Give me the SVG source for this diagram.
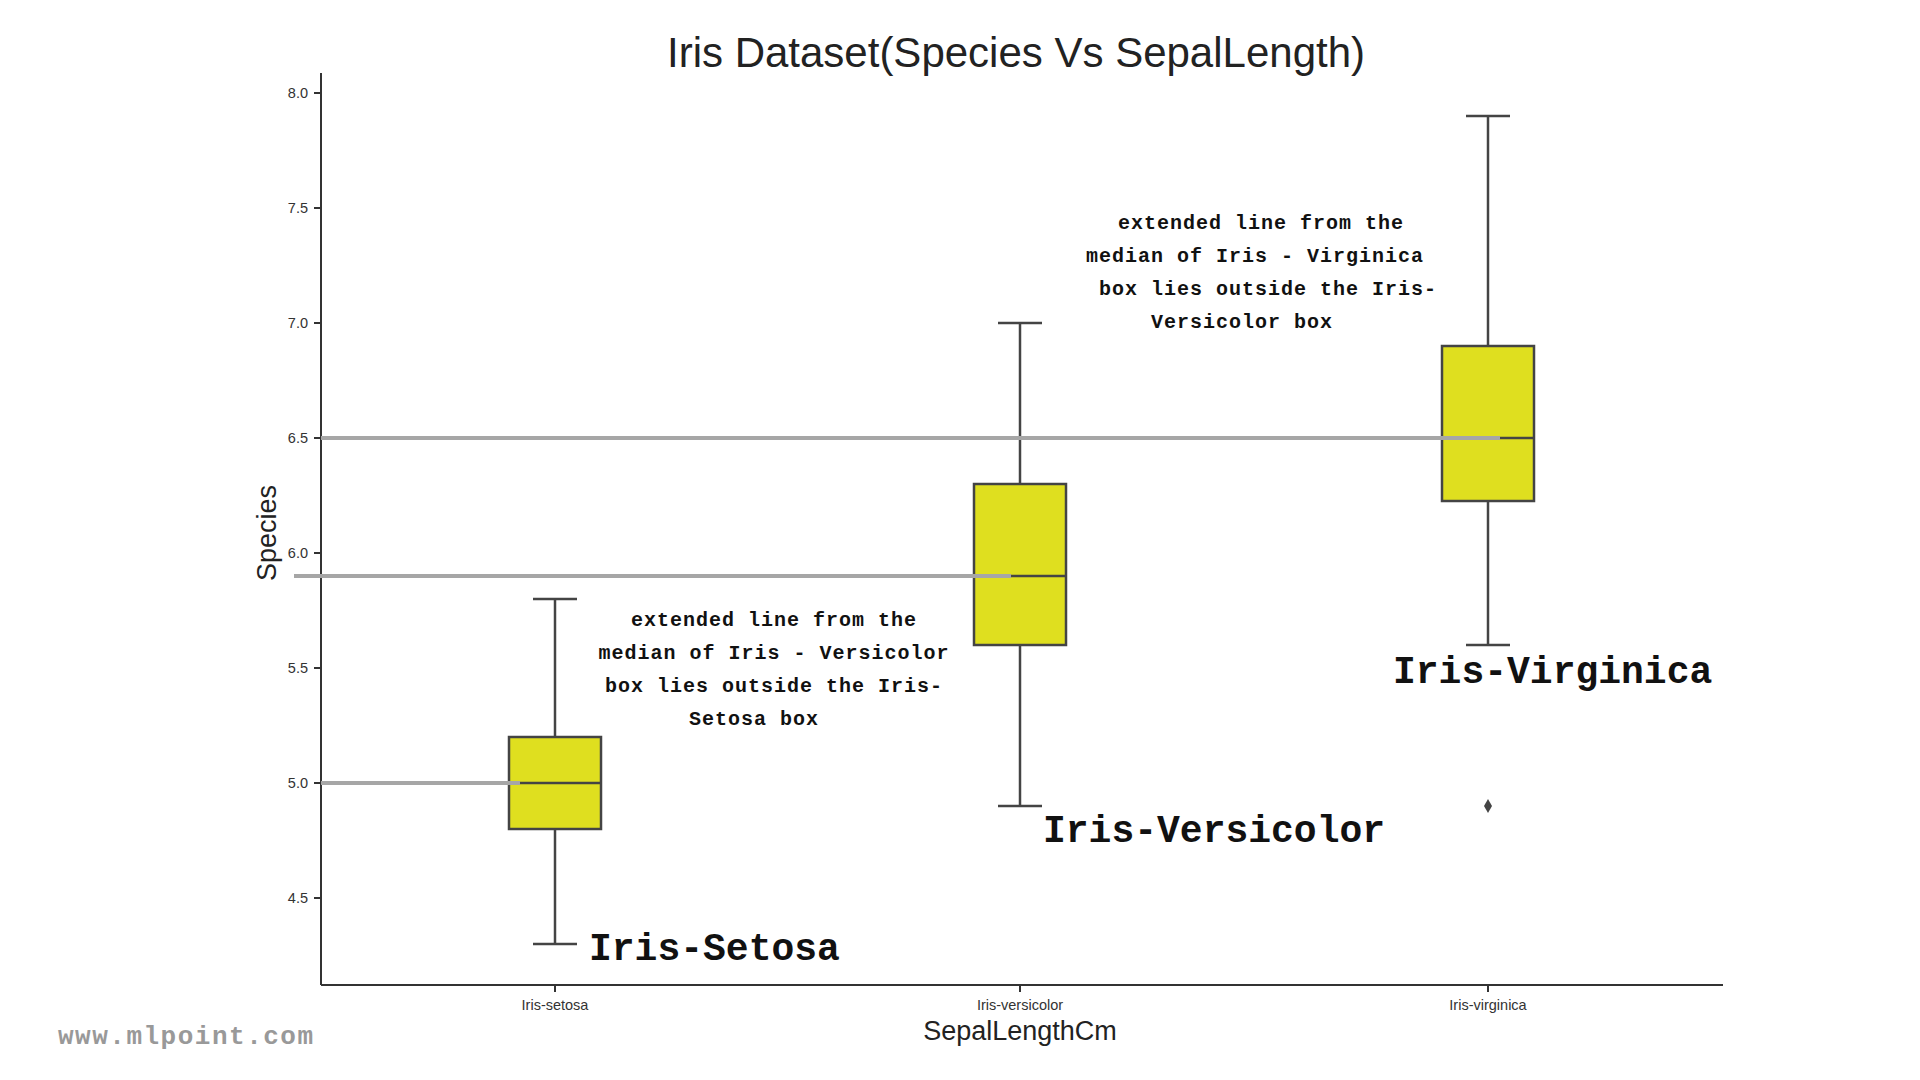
<svg xmlns="http://www.w3.org/2000/svg" width="1920" height="1080" viewBox="0 0 1920 1080">
<style>
.ax{stroke:#333;stroke-width:2;fill:none}
.tk{font-family:"Liberation Sans",Arial,sans-serif;font-size:14.5px;fill:#333}
.lab{font-family:"Liberation Sans",Arial,sans-serif;font-size:27px;fill:#222}
.box{fill:#dfdf1f;stroke:#444;stroke-width:2.5}
.wh{stroke:#444;stroke-width:2.5;fill:none}
.ext{stroke:#a6a6a6;stroke-width:4}
.ann{font-family:"Liberation Mono","Courier New",monospace;font-weight:bold;font-size:20px;letter-spacing:1px;fill:#111;text-anchor:middle}
.big{font-family:"Liberation Mono","Courier New",monospace;font-weight:bold;font-size:38px;fill:#111}
</style>
<rect width="1920" height="1080" fill="#fff"/>
<text x="1016" y="67" text-anchor="middle" font-family="Liberation Sans,Arial,sans-serif" font-size="42" fill="#222">Iris Dataset(Species Vs SepalLength)</text>
<g id="axes">
<line class="ax" x1="321" y1="73" x2="321" y2="985"/>
<line class="ax" x1="321" y1="985" x2="1723" y2="985"/>
<g class="ax">
<line x1="314" y1="93" x2="321" y2="93"/><line x1="314" y1="208" x2="321" y2="208"/><line x1="314" y1="323" x2="321" y2="323"/><line x1="314" y1="438" x2="321" y2="438"/><line x1="314" y1="553" x2="321" y2="553"/><line x1="314" y1="668" x2="321" y2="668"/><line x1="314" y1="783" x2="321" y2="783"/><line x1="314" y1="898" x2="321" y2="898"/>
<line x1="555" y1="985" x2="555" y2="992"/><line x1="1020" y1="985" x2="1020" y2="992"/><line x1="1488" y1="985" x2="1488" y2="992"/>
</g>
<g class="tk" text-anchor="end">
<text x="308" y="98">8.0</text><text x="308" y="213">7.5</text><text x="308" y="328">7.0</text><text x="308" y="443">6.5</text><text x="308" y="558">6.0</text><text x="308" y="673">5.5</text><text x="308" y="788">5.0</text><text x="308" y="903">4.5</text>
</g>
<g class="tk" text-anchor="middle">
<text x="555" y="1010">Iris-setosa</text><text x="1020" y="1010">Iris-versicolor</text><text x="1488" y="1010">Iris-virginica</text>
</g>
<text class="lab" x="1020" y="1040" text-anchor="middle">SepalLengthCm</text>
<text class="lab" transform="translate(276,533) rotate(-90)" text-anchor="middle">Species</text>
</g>
<g id="setosa">
<line class="wh" x1="555" y1="944" x2="555" y2="829"/><line class="wh" x1="555" y1="737" x2="555" y2="599"/>
<line class="wh" x1="533" y1="944" x2="577" y2="944"/><line class="wh" x1="533" y1="599" x2="577" y2="599"/>
<rect class="box" x="509" y="737" width="92" height="92"/>
<line class="wh" x1="509" y1="783" x2="601" y2="783"/>
</g>
<g id="versicolor">
<line class="wh" x1="1020" y1="806" x2="1020" y2="645"/><line class="wh" x1="1020" y1="484" x2="1020" y2="323"/>
<line class="wh" x1="998" y1="806" x2="1042" y2="806"/><line class="wh" x1="998" y1="323" x2="1042" y2="323"/>
<rect class="box" x="974" y="484" width="92" height="161"/>
<line class="wh" x1="974" y1="576" x2="1066" y2="576"/>
</g>
<g id="virginica">
<line class="wh" x1="1488" y1="645" x2="1488" y2="501"/><line class="wh" x1="1488" y1="346" x2="1488" y2="116"/>
<line class="wh" x1="1466" y1="645" x2="1510" y2="645"/><line class="wh" x1="1466" y1="116" x2="1510" y2="116"/>
<rect class="box" x="1442" y="346" width="92" height="155"/>
<line class="wh" x1="1442" y1="438" x2="1534" y2="438"/>
<path d="M1488 799 L1492 806 L1488 813 L1484 806 Z" fill="#444"/>
</g>
<g id="connectors">
<line class="ext" x1="321" y1="438" x2="1500" y2="438"/>
<line class="ext" x1="294" y1="576" x2="1011" y2="576"/>
<line class="ext" x1="321" y1="783" x2="520" y2="783"/>
</g>
<g id="annotations">
<text class="ann" x="1261" y="229">extended line from the</text>
<text class="ann" x="1255" y="262">median of Iris - Virginica</text>
<text class="ann" x="1268" y="295">box lies outside the Iris-</text>
<text class="ann" x="1242" y="328">Versicolor box</text>
<text class="ann" x="774" y="626">extended line from the</text>
<text class="ann" x="774" y="659">median of Iris - Versicolor</text>
<text class="ann" x="774" y="692">box lies outside the Iris-</text>
<text class="ann" x="754" y="725">Setosa box</text>
<text class="big" x="589" y="960">Iris-Setosa</text>
<text class="big" x="1043" y="842">Iris-Versicolor</text>
<text class="big" x="1393" y="683">Iris-Virginica</text>
<text x="58" y="1044" font-family="Liberation Mono,Courier New,monospace" font-weight="bold" font-size="26" letter-spacing="1.5" fill="#999">www.mlpoint.com</text>
</g>
</svg>
